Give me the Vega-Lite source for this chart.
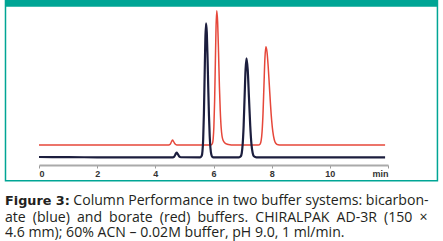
{
  "$schema": "https://vega.github.io/schema/vega-lite/v6.json",
  "autosize": {"type": "none"},
  "width": 349,
  "height": 165,
  "padding": {"left": 39, "top": 0, "right": 55, "bottom": 76},
  "background": "white",
  "config": {"view": {"stroke": null}},
  "data": {"values": [
    {"t": 0, "v": 8.0, "b": "bicarbonate"},
    {"t": 1.0, "v": 7.8, "b": "bicarbonate"},
    {"t": 2.0, "v": 7.7, "b": "bicarbonate"},
    {"t": 4.6, "v": 7.7, "b": "bicarbonate"},
    {"t": 4.65, "v": 8.3, "b": "bicarbonate"},
    {"t": 4.69, "v": 10.5, "b": "bicarbonate"},
    {"t": 4.73, "v": 12.3, "b": "bicarbonate"},
    {"t": 4.77, "v": 11.0, "b": "bicarbonate"},
    {"t": 4.82, "v": 8.6, "b": "bicarbonate"},
    {"t": 4.88, "v": 7.75, "b": "bicarbonate"},
    {"t": 5.545, "v": 7.7, "b": "bicarbonate"},
    {"t": 5.595, "v": 9.2, "b": "bicarbonate"},
    {"t": 5.62, "v": 13.6, "b": "bicarbonate"},
    {"t": 5.645, "v": 25.8, "b": "bicarbonate"},
    {"t": 5.67, "v": 51.2, "b": "bicarbonate"},
    {"t": 5.695, "v": 89.0, "b": "bicarbonate"},
    {"t": 5.72, "v": 126.0, "b": "bicarbonate"},
    {"t": 5.745, "v": 141.7, "b": "bicarbonate"},
    {"t": 5.77, "v": 132.2, "b": "bicarbonate"},
    {"t": 5.795, "v": 107.4, "b": "bicarbonate"},
    {"t": 5.82, "v": 76.6, "b": "bicarbonate"},
    {"t": 5.845, "v": 48.7, "b": "bicarbonate"},
    {"t": 5.87, "v": 28.8, "b": "bicarbonate"},
    {"t": 5.895, "v": 17.0, "b": "bicarbonate"},
    {"t": 5.925, "v": 10.6, "b": "bicarbonate"},
    {"t": 5.965, "v": 8.1, "b": "bicarbonate"},
    {"t": 6.025, "v": 7.7, "b": "bicarbonate"},
    {"t": 6.874, "v": 7.7, "b": "bicarbonate"},
    {"t": 6.939, "v": 8.8, "b": "bicarbonate"},
    {"t": 6.972, "v": 12.0, "b": "bicarbonate"},
    {"t": 7.004, "v": 21.1, "b": "bicarbonate"},
    {"t": 7.037, "v": 39.8, "b": "bicarbonate"},
    {"t": 7.069, "v": 67.7, "b": "bicarbonate"},
    {"t": 7.102, "v": 95.1, "b": "bicarbonate"},
    {"t": 7.134, "v": 106.7, "b": "bicarbonate"},
    {"t": 7.177, "v": 95.1, "b": "bicarbonate"},
    {"t": 7.219, "v": 67.7, "b": "bicarbonate"},
    {"t": 7.262, "v": 39.8, "b": "bicarbonate"},
    {"t": 7.304, "v": 21.1, "b": "bicarbonate"},
    {"t": 7.347, "v": 12.0, "b": "bicarbonate"},
    {"t": 7.389, "v": 8.8, "b": "bicarbonate"},
    {"t": 7.474, "v": 7.7, "b": "bicarbonate"},
    {"t": 9.0, "v": 7.7, "b": "bicarbonate"},
    {"t": 11.9, "v": 7.7, "b": "bicarbonate"},
    {"t": 0, "v": 20, "b": "borate"},
    {"t": 2, "v": 20, "b": "borate"},
    {"t": 4.46, "v": 20, "b": "borate"},
    {"t": 4.51, "v": 20.7, "b": "borate"},
    {"t": 4.55, "v": 23.0, "b": "borate"},
    {"t": 4.59, "v": 25.0, "b": "borate"},
    {"t": 4.63, "v": 23.3, "b": "borate"},
    {"t": 4.68, "v": 21.0, "b": "borate"},
    {"t": 4.74, "v": 20.1, "b": "borate"},
    {"t": 4.8, "v": 20, "b": "borate"},
    {"t": 5.913, "v": 20, "b": "borate"},
    {"t": 5.963, "v": 21.5, "b": "borate"},
    {"t": 5.988, "v": 25.9, "b": "borate"},
    {"t": 6.013, "v": 38.2, "b": "borate"},
    {"t": 6.038, "v": 63.6, "b": "borate"},
    {"t": 6.063, "v": 101.5, "b": "borate"},
    {"t": 6.088, "v": 138.5, "b": "borate"},
    {"t": 6.113, "v": 154.3, "b": "borate"},
    {"t": 6.143, "v": 142.5, "b": "borate"},
    {"t": 6.173, "v": 113.0, "b": "borate"},
    {"t": 6.203, "v": 78.7, "b": "borate"},
    {"t": 6.233, "v": 54.0, "b": "borate"},
    {"t": 6.263, "v": 37.5, "b": "borate"},
    {"t": 6.293, "v": 29.0, "b": "borate"},
    {"t": 6.333, "v": 24.5, "b": "borate"},
    {"t": 6.393, "v": 22.0, "b": "borate"},
    {"t": 6.473, "v": 20.8, "b": "borate"},
    {"t": 6.563, "v": 20.2, "b": "borate"},
    {"t": 6.663, "v": 20, "b": "borate"},
    {"t": 7.54, "v": 20, "b": "borate"},
    {"t": 7.605, "v": 21.1, "b": "borate"},
    {"t": 7.638, "v": 24.3, "b": "borate"},
    {"t": 7.67, "v": 33.3, "b": "borate"},
    {"t": 7.703, "v": 51.9, "b": "borate"},
    {"t": 7.735, "v": 79.6, "b": "borate"},
    {"t": 7.768, "v": 106.7, "b": "borate"},
    {"t": 7.8, "v": 118.3, "b": "borate"},
    {"t": 7.84, "v": 113.0, "b": "borate"},
    {"t": 7.88, "v": 98.7, "b": "borate"},
    {"t": 7.92, "v": 79.6, "b": "borate"},
    {"t": 7.96, "v": 60.4, "b": "borate"},
    {"t": 8.0, "v": 44.5, "b": "borate"},
    {"t": 8.04, "v": 33.3, "b": "borate"},
    {"t": 8.09, "v": 25.3, "b": "borate"},
    {"t": 8.14, "v": 21.8, "b": "borate"},
    {"t": 8.22, "v": 20.2, "b": "borate"},
    {"t": 8.32, "v": 20, "b": "borate"},
    {"t": 11.9, "v": 20, "b": "borate"}
  ]},
  "layer": [
    {
      "data": {"values": [{}]},
      "mark": {"type": "rect", "fillOpacity": 0, "stroke": "#00a595", "strokeWidth": 1.5},
      "encoding": {
        "x": {"datum": -1.152, "type": "quantitative", "scale": {"domain": [0, 12], "nice": false, "zero": false},
          "axis": {"title": null, "values": [0,0.5,1,1.5,2,2.5,3,3.5,4,4.5,5,5.5,6,6.5,7,7.5,8,8.5,9,9.5,10,10.5,11,11.5,12],
            "labelExpr": "datum.value == 12 ? 'min' : (datum.value % 2 == 0 ? datum.label : '')",
            "labelOverlap": false, "labelFont": "Liberation Sans", "labelFontWeight": "bold", "labelFontSize": 9, "labelColor": "#333333",
            "labelPadding": 1, "tickSize": 3, "tickColor": "#999999", "domainColor": "#aaaaaa", "domainWidth": 2, "grid": false}},
        "x2": {"datum": 13.7},
        "y": {"datum": -15.7, "type": "quantitative", "scale": {"domain": [0, 165], "nice": false}, "axis": null},
        "y2": {"datum": 165}
      }
    },
    {
      "data": {"values": [{}]},
      "mark": {"type": "rect", "fill": "#00a595"},
      "encoding": {
        "x": {"datum": -1.17, "type": "quantitative"},
        "x2": {"datum": 13.72},
        "y": {"datum": 158.3, "type": "quantitative"},
        "y2": {"datum": 165}
      }
    },
    {
      "transform": [{"filter": "datum.b === 'borate'"}],
      "mark": {"type": "line", "interpolate": "monotone", "strokeWidth": 1.5, "color": "#e6473a"},
      "encoding": {
        "x": {"field": "t", "type": "quantitative"},
        "y": {"field": "v", "type": "quantitative"}
      }
    },
    {
      "transform": [{"filter": "datum.b === 'bicarbonate'"}],
      "mark": {"type": "line", "interpolate": "monotone", "strokeWidth": 2.2, "color": "#1c1e3e"},
      "encoding": {
        "x": {"field": "t", "type": "quantitative"},
        "y": {"field": "v", "type": "quantitative"}
      }
    },
    {
      "data": {"values": [{}]},
      "mark": {"type": "text", "text": "Figure 3:", "font": "DejaVu Sans", "fontWeight": "bold", "fontSize": 12.8, "color": "#231f20", "align": "left", "baseline": "alphabetic"},
      "encoding": {
        "x": {"datum": -1.169, "type": "quantitative"},
        "y": {"datum": -40.3, "type": "quantitative"}
      }
    },
    {
      "data": {"values": [{}]},
      "mark": {"type": "text", "text": "Column Performance in two buffer systems: bicarbon-", "font": "Open Sans", "fontSize": 14.1, "color": "#231f20", "align": "left", "baseline": "alphabetic"},
      "encoding": {
        "x": {"datum": 1.179, "type": "quantitative"},
        "y": {"datum": -40.3, "type": "quantitative"}
      }
    },
    {
      "data": {"values": [{}]},
      "mark": {"type": "text", "text": "ate\u2002(blue)\u2002and\u2002borate\u2002(red)\u2002buffers.\u2002CHIRALPAK\u2002AD-3R\u2002(150\u2002×", "font": "Open Sans", "fontSize": 14.1, "color": "#231f20", "align": "left", "baseline": "alphabetic"},
      "encoding": {
        "x": {"datum": -1.169, "type": "quantitative"},
        "y": {"datum": -56.5, "type": "quantitative"}
      }
    },
    {
      "data": {"values": [{}]},
      "mark": {"type": "text", "text": "4.6 mm); 60% ACN – 0.02M buffer, pH 9.0, 1 ml/min.", "font": "Open Sans", "fontSize": 14.1, "color": "#231f20", "align": "left", "baseline": "alphabetic"},
      "encoding": {
        "x": {"datum": -1.169, "type": "quantitative"},
        "y": {"datum": -72.3, "type": "quantitative"}
      }
    }
  ]
}
